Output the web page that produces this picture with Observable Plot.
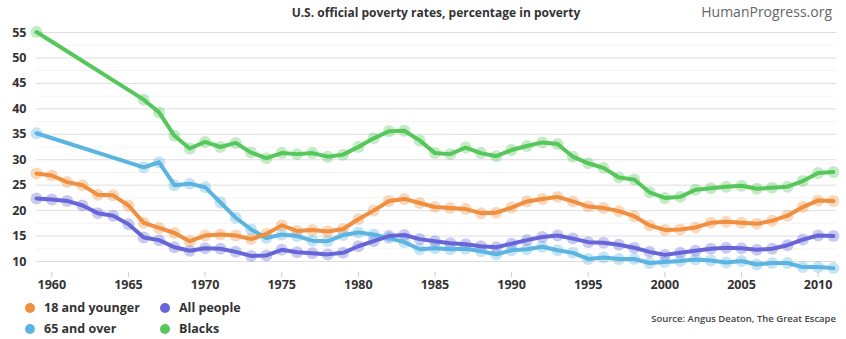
<!DOCTYPE html>
<html>
<head>
<meta charset="utf-8">
<script src="https://cdn.jsdelivr.net/npm/d3@7"></script>
<script src="https://cdn.jsdelivr.net/npm/@observablehq/plot@0.6"></script>
<style>
  body { margin: 0; background: #fff; font-family: "Open Sans", sans-serif; }
  #wrap { position: relative; width: 846px; height: 339px; }
  #title { position: absolute; top: 4px; left: 236px; width: 400px; text-align: center; font-size: 12px; font-weight: 700; color: #333; }
  #brand { position: absolute; top: 2px; right: 14px; font-size: 14px; color: #666; }
  .leg { position: absolute; font-size: 12.5px; font-weight: 700; color: #333; }
  .leg span.dot { display: inline-block; width: 10px; height: 10px; border-radius: 50%; margin-right: 9px; vertical-align: -1px; }
  #source { position: absolute; right: 10px; top: 312px; font-size: 9.5px; font-weight: 600; color: #444; }
</style>
</head>
<body>
<div id="wrap">
  <div id="chart"></div>
  <div id="title">U.S. official poverty rates, percentage in poverty</div>
  <div id="brand">HumanProgress.org</div>
  <div id="legend"></div>
  <div id="source">Source: Angus Deaton, The Great Escape</div>
</div>
<script>
const seriesNames = ["65 and over", "All people", "18 and younger", "Blacks"];
const seriesColors = ["#5bb5e0", "#6666d8", "#ef8f3f", "#56c75b"];
const legendOrder = ["18 and younger", "All people", "65 and over", "Blacks"];

const yearsFull = d3.range(1959, 2012);
const yearsGap = [1959].concat(d3.range(1966, 2012));

const under18 = [27.3, 26.9, 25.6, 25.0, 23.1, 23.0, 21.0, 17.6, 16.6, 15.6, 14.0, 15.1, 15.3, 15.1, 14.4, 15.4, 17.1, 16.0, 16.2, 15.9, 16.4, 18.3, 20.0, 21.9, 22.3, 21.5, 20.7, 20.5, 20.3, 19.5, 19.6, 20.6, 21.8, 22.3, 22.7, 21.8, 20.8, 20.5, 19.9, 18.9, 17.1, 16.2, 16.3, 16.7, 17.6, 17.8, 17.6, 17.4, 18.0, 19.0, 20.7, 22.0, 21.9];
const allPeople = [22.4, 22.2, 21.9, 21.0, 19.5, 19.0, 17.3, 14.7, 14.2, 12.8, 12.1, 12.6, 12.5, 11.9, 11.1, 11.2, 12.3, 11.8, 11.6, 11.4, 11.7, 13.0, 14.0, 15.0, 15.2, 14.4, 14.0, 13.6, 13.4, 13.0, 12.8, 13.5, 14.2, 14.8, 15.1, 14.5, 13.8, 13.7, 13.3, 12.7, 11.9, 11.3, 11.7, 12.1, 12.5, 12.7, 12.6, 12.3, 12.5, 13.2, 14.3, 15.1, 15.0];
const over65 = [35.2, 28.5, 29.5, 25.0, 25.3, 24.6, 21.6, 18.6, 16.3, 14.6, 15.3, 15.0, 14.1, 14.0, 15.2, 15.7, 15.3, 14.6, 13.8, 12.4, 12.6, 12.4, 12.5, 12.0, 11.4, 12.2, 12.4, 12.9, 12.2, 11.7, 10.5, 10.8, 10.5, 10.5, 9.7, 9.9, 10.1, 10.4, 10.2, 9.8, 10.1, 9.4, 9.7, 9.7, 8.9, 8.9, 8.7];
const blacks = [55.1, 41.8, 39.3, 34.7, 32.2, 33.5, 32.5, 33.3, 31.4, 30.3, 31.3, 31.1, 31.3, 30.6, 31.0, 32.5, 34.2, 35.6, 35.7, 33.8, 31.3, 31.1, 32.4, 31.3, 30.7, 31.9, 32.7, 33.4, 33.1, 30.6, 29.3, 28.4, 26.5, 26.1, 23.6, 22.5, 22.7, 24.1, 24.4, 24.7, 24.9, 24.3, 24.5, 24.7, 25.8, 27.4, 27.6];

const yMajor = [10, 15, 20, 25, 30, 35, 40, 45, 50, 55];
const yMinor = [12.5, 17.5, 22.5, 27.5, 32.5, 37.5, 42.5, 47.5, 52.5];
const xTicks = [1960, 1965, 1970, 1975, 1980, 1985, 1990, 1995, 2000, 2005, 2010];

const data = [];
over65.forEach((v, i) => data.push({series: "65 and over", year: yearsGap[i], value: v}));
allPeople.forEach((v, i) => data.push({series: "All people", year: yearsFull[i], value: v}));
under18.forEach((v, i) => data.push({series: "18 and younger", year: yearsFull[i], value: v}));
blacks.forEach((v, i) => data.push({series: "Blacks", year: yearsGap[i], value: v}));

const chart = Plot.plot({
  width: 846,
  height: 300,
  marginLeft: 36,
  marginRight: 10,
  marginTop: 32,
  marginBottom: 28,
  style: {fontFamily: "'Open Sans', sans-serif", fontSize: "12.5px", fontWeight: 700, color: "#333", background: "transparent", overflow: "visible"},
  x: {domain: [1959, 2011.2]},
  y: {domain: [7.84, 55]},
  color: {domain: seriesNames, range: seriesColors},
  marks: [
    Plot.ruleY(yMinor, {stroke: "#f4f4f4", strokeWidth: 1}),
    Plot.ruleY(yMajor, {stroke: "#dedede", strokeWidth: 1}),
    Plot.axisY({ticks: yMajor, tickSize: 0, tickPadding: 10, label: null}),
    Plot.axisX({ticks: xTicks, tickSize: 5, tickPadding: 3, tickFormat: d => String(d), label: null}),
    Plot.dot(data, {x: "year", y: "value", fill: "series", r: 6, fillOpacity: 0.35}),
    Plot.line(data, {x: "year", y: "value", z: "series", stroke: "series", strokeWidth: 4, strokeLinejoin: "round", curve: "linear"})
  ]
});
document.getElementById("chart").appendChild(chart);
d3.select(chart).selectAll('g[aria-label="x-axis tick"]').attr("stroke", "#cccccc");

const legend = document.getElementById("legend");
const pos = [[25, 299], [160, 299], [25, 320], [160, 320]];
legendOrder.forEach((name, i) => {
  const d = document.createElement("div");
  d.className = "leg";
  d.style.left = pos[i][0] + "px";
  d.style.top = pos[i][1] + "px";
  const dot = document.createElement("span");
  dot.className = "dot";
  dot.style.background = seriesColors[seriesNames.indexOf(name)];
  d.appendChild(dot);
  d.appendChild(document.createTextNode(name));
  legend.appendChild(d);
});
</script>
</body>
</html>
